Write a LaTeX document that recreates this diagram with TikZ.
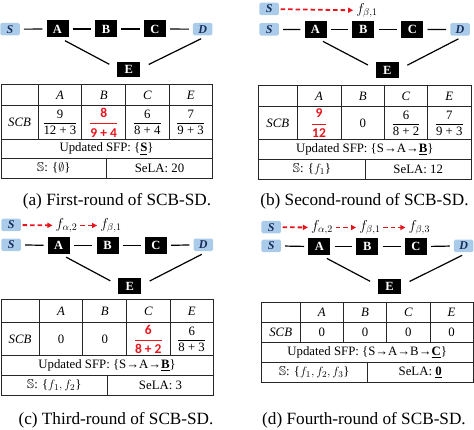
\documentclass[tikz,border=0pt]{standalone}
\usepackage{amsmath,amssymb}
\usepackage{fontspec}
\setmainfont{Liberation Serif}
\newfontfamily\calfont{Carlito}
\usetikzlibrary{calc,arrows.meta}
\definecolor{sdblue}{RGB}{170,204,234}
\definecolor{sdnavy}{RGB}{25,45,90}
\definecolor{sdred}{RGB}{232,20,28}
\newcommand{\fr}[2]{$\dfrac{\mbox{#1}}{\mbox{#2}}$}
\newcommand{\rfr}[2]{{\color{sdred}\calfont\bfseries\fontsize{13.5}{14}\selectfont$\dfrac{\mbox{#1}}{\mbox{#2}}$}}
\newcommand{\ssf}{$\mathbb{S}$}
\tikzset{
  sd/.style={fill=sdblue, rounded corners=1.5pt, minimum width=19.5pt, minimum height=12.5pt, inner sep=0pt, text=sdnavy, font=\fontsize{12}{12}\selectfont\bfseries\itshape},
  sw/.style={fill=black, text=white, minimum width=22pt, minimum height=17pt, inner sep=0pt, font=\fontsize{12.5}{12.5}\selectfont\bfseries},
  link/.style={line width=1.2pt, black, shorten <=4pt, shorten >=4pt},
  diag/.style={line width=1.2pt, black},
  flow/.style={sdred, line width=1.8pt, dash pattern=on 4.5pt off 3pt, -{Triangle[length=5pt,width=5pt]}, shorten <=1.5pt, shorten >=2pt},
  flab/.style={inner sep=1pt, font=\fontsize{14}{14}\selectfont},
  tbl/.style={line width=1pt, black!85},
  cell/.style={inner sep=0pt, font=\fontsize{12.8}{13}\selectfont},
  hcell/.style={inner sep=0pt, font=\fontsize{12.8}{13}\selectfont\itshape},
  capt/.style={inner sep=0pt, font=\fontsize{17.2}{18}\selectfont}
}
\begin{document}
\begin{tikzpicture}[x=1pt,y=-1pt]
\useasboundingbox (0,0) rectangle (474,430);
% ================= (a)
\node[sd] (aS) at (10,29.2) {S};
\node[sw] (aA) at (57.5,29) {A};
\node[sw] (aB) at (106,29) {B};
\node[sw] (aC) at (155,29) {C};
\node[sd] (aD) at (202.7,29.2) {D};
\node[sw, minimum height=15.6pt, minimum width=22.7pt] (aE) at (128.7,69.5) {E};
\draw[link] (aS) -- (aA);
\draw[link] (aA) -- (aB);
\draw[link] (aB) -- (aC);
\draw[link] (aC) -- (aD);
\draw[diag] ($(aA)+(7.5,11.7)$) -- ($(aE)+(-19.4,-5.2)$);
\draw[diag] ($(aD)+(-1.5,9.5)$) -- ($(aE)+(20,-5)$);
\draw[tbl] (1,85) rectangle (212.3,178.3);
\draw[tbl] (1,106) -- (212.3,106) (1,139.3) -- (212.3,139.3) (1,158.3) -- (212.3,158.3);
\draw[tbl] (38.3,85) -- (38.3,139.3) (81.7,85) -- (81.7,139.3) (125.7,85) -- (125.7,139.3) (169,85) -- (169,139.3);
\draw[tbl] (106.7,158.3) -- (106.7,178.3);
\node[hcell] (ahA) at (60,95.5) {A};
\node[hcell] (ahB) at (103.7,95.5) {B};
\node[hcell] (ahC) at (147.3,95.5) {C};
\node[hcell] (ahE) at (190.7,95.5) {E};
\node[hcell] (ahS) at (19.6,122.6) {SCB};
\node[cell] (a1) at (60,122.6) {\fr{9}{12 + 3}};
\node[cell] (a2) at (103.7,122.6) {\rfr{8}{9 + 4}};
\node[cell] (a3) at (147.3,122.6) {\fr{6}{8 + 4}};
\node[cell] (a4) at (190.7,122.6) {\fr{7}{9 + 3}};
\node[cell] (aSFP) at (106.6,148.8) {Updated SFP: \{\underline{\textbf{S}}\}};
\node[cell] (aSS) at (53.8,168.3) {\ssf: \{$\emptyset$\}};
\node[cell] (aSL) at (159.5,168.3) {SeLA: 20};
\node[capt] (acap) at (117,201.7) {(a) First-round of SCB-SD.};
% ================= (b)
\node[sd] (bS0) at (269.2,9) {S};
\node[flab] (bf1) at (367,10.5) {$f_{\beta,1}$};
\draw[flow] (bS0) -- (bf1);
\node[sd] (bS) at (269.2,29.3) {S};
\node[sw] (bA) at (315.5,29.7) {A};
\node[sw] (bB) at (363.3,29.7) {B};
\node[sw] (bC) at (412.3,29.7) {C};
\node[sd] (bD) at (460,29.3) {D};
\node[sw, minimum height=15.6pt, minimum width=22.7pt] (bE) at (387.3,70.2) {E};
\draw[link] (bS) -- (bA);
\draw[link] (bA) -- (bB);
\draw[link] (bB) -- (bC);
\draw[link] (bC) -- (bD);
\draw[diag] ($(bA)+(7.5,11.7)$) -- ($(bE)+(-19.4,-5.2)$);
\draw[diag] ($(bD)+(-1.5,9.5)$) -- ($(bE)+(20,-5)$);
\draw[tbl] (258.7,86) rectangle (471,179.3);
\draw[tbl] (258.7,106.7) -- (471,106.7) (258.7,140) -- (471,140) (258.7,159.3) -- (471,159.3);
\draw[tbl] (297,86) -- (297,140) (341,86) -- (341,140) (384.3,86) -- (384.3,140) (427.7,86) -- (427.7,140);
\draw[tbl] (365.3,159.3) -- (365.3,179.3);
\node[hcell] (bhA) at (319,96.3) {A};
\node[hcell] (bhB) at (362.7,96.3) {B};
\node[hcell] (bhC) at (406,96.3) {C};
\node[hcell] (bhE) at (449.3,96.3) {E};
\node[hcell] (bhS) at (277.8,123.3) {SCB};
\node[cell] (b1) at (319,123.3) {\rfr{9}{12}};
\node[cell] (b2) at (362.7,123.3) {0};
\node[cell] (b3) at (406,123.3) {\fr{6}{8 + 2}};
\node[cell] (b4) at (449.3,123.3) {\fr{7}{9 + 3}};
\node[cell] (bSFP) at (364.8,149.6) {Updated SFP: \{S→A→\underline{\textbf{B}}\}};
\node[cell] (bSS) at (312,169.3) {\ssf: \{$f_1$\}};
\node[cell] (bSL) at (418.2,169.3) {SeLA: 12};
\node[capt] (bcap) at (364.5,201.7) {(b) Second-round of SCB-SD.};
% ================= (c)
\node[sd] (cS0) at (11.2,225) {S};
\node[flab] (cf1) at (66.5,225.5) {$f_{\alpha,2}$};
\node[flab] (cf2) at (111,225.5) {$f_{\beta,1}$};
\draw[flow] (cS0) -- (cf1);
\draw[flow] (cf1) -- (cf2);
\node[sd] (cS) at (11.2,244.8) {S};
\node[sw] (cA) at (58.7,245.5) {A};
\node[sw] (cB) at (107.5,245.5) {B};
\node[sw] (cC) at (155.8,245.5) {C};
\node[sd] (cD) at (203.3,244.8) {D};
\node[sw, minimum height=15.6pt, minimum width=22.7pt] (cE) at (129.7,286) {E};
\draw[link] (cS) -- (cA);
\draw[link] (cA) -- (cB);
\draw[link] (cB) -- (cC);
\draw[link] (cC) -- (cD);
\draw[diag] ($(cA)+(7.5,11.7)$) -- ($(cE)+(-19.4,-5.2)$);
\draw[diag] ($(cD)+(-1.5,9.5)$) -- ($(cE)+(20,-5)$);
\draw[tbl] (1,300) rectangle (213.3,395);
\draw[tbl] (1,322.7) -- (213.3,322.7) (1,356) -- (213.3,356) (1,375.7) -- (213.3,375.7);
\draw[tbl] (39.3,300) -- (39.3,356) (82.7,300) -- (82.7,356) (126.7,300) -- (126.7,356) (170,300) -- (170,356);
\draw[tbl] (107.7,375.7) -- (107.7,395);
\node[hcell] (chA) at (61,311.3) {A};
\node[hcell] (chB) at (104.7,311.3) {B};
\node[hcell] (chC) at (148.3,311.3) {C};
\node[hcell] (chE) at (191.7,311.3) {E};
\node[hcell] (chS) at (20.1,339.3) {SCB};
\node[cell] (c1) at (61,339.3) {0};
\node[cell] (c2) at (104.7,339.3) {0};
\node[cell] (c3) at (148.3,339.3) {\rfr{6}{8 + 2}};
\node[cell] (c4) at (191.7,339.3) {\fr{6}{8 + 3}};
\node[cell] (cSFP) at (107.1,365.8) {Updated SFP: \{S→A→\underline{\textbf{B}}\}};
\node[cell] (cSS) at (54.3,385.3) {\ssf: \{$f_1, f_2$\}};
\node[cell] (cSL) at (160.5,385.3) {SeLA: 3};
\node[capt] (ccap) at (116,420) {(c) Third-round of SCB-SD.};
% ================= (d)
\node[sd] (dS0) at (271.2,227.2) {S};
\node[flab] (df1) at (322,227.5) {$f_{\alpha,2}$};
\node[flab] (df2) at (370,227.5) {$f_{\beta,1}$};
\node[flab] (df3) at (419.3,227.5) {$f_{\beta,3}$};
\draw[flow] (dS0) -- (df1);
\draw[flow] (df1) -- (df2);
\draw[flow] (df2) -- (df3);
\node[sd] (dS) at (271.2,245.8) {S};
\node[sw] (dA) at (319.3,246.7) {A};
\node[sw] (dB) at (367.3,246.7) {B};
\node[sw] (dC) at (416,246.7) {C};
\node[sd] (dD) at (463.7,245.8) {D};
\node[sw, minimum height=15.6pt, minimum width=22.7pt] (dE) at (389.5,286.5) {E};
\draw[link] (dS) -- (dA);
\draw[link] (dA) -- (dB);
\draw[link] (dB) -- (dC);
\draw[link] (dC) -- (dD);
\draw[diag] ($(dA)+(7.5,11.7)$) -- ($(dE)+(-19.4,-5.2)$);
\draw[diag] ($(dD)+(-1.5,9.5)$) -- ($(dE)+(20,-5)$);
\draw[tbl] (261.3,302.3) rectangle (473,382.3);
\draw[tbl] (261.3,322.3) -- (473,322.3) (261.3,342.3) -- (473,342.3) (261.3,362.3) -- (473,362.3);
\draw[tbl] (300,302.3) -- (300,342.3) (343.3,302.3) -- (343.3,342.3) (386.7,302.3) -- (386.7,342.3) (430,302.3) -- (430,342.3);
\draw[tbl] (367.3,362.3) -- (367.3,382.3);
\node[hcell] (dhA) at (321.7,312.3) {A};
\node[hcell] (dhB) at (365,312.3) {B};
\node[hcell] (dhC) at (408.3,312.3) {C};
\node[hcell] (dhE) at (451.5,312.3) {E};
\node[hcell] (dhS) at (280.7,332.3) {SCB};
\node[cell] (d1) at (321.7,332.3) {0};
\node[cell] (d2) at (365,332.3) {0};
\node[cell] (d3) at (408.3,332.3) {0};
\node[cell] (d4) at (451.5,332.3) {0};
\node[cell] (dSFP) at (367.2,352.3) {Updated SFP: \{S→A→B→\underline{\textbf{C}}\}};
\node[cell] (dSS) at (314.3,372.3) {\ssf: \{$f_1, f_2, f_3$\}};
\node[cell] (dSL) at (420.2,372.3) {SeLA: \underline{\textbf{0}}};
\node[capt] (dcap) at (364,420) {(d) Fourth-round of SCB-SD.};
\end{tikzpicture}
\end{document}
